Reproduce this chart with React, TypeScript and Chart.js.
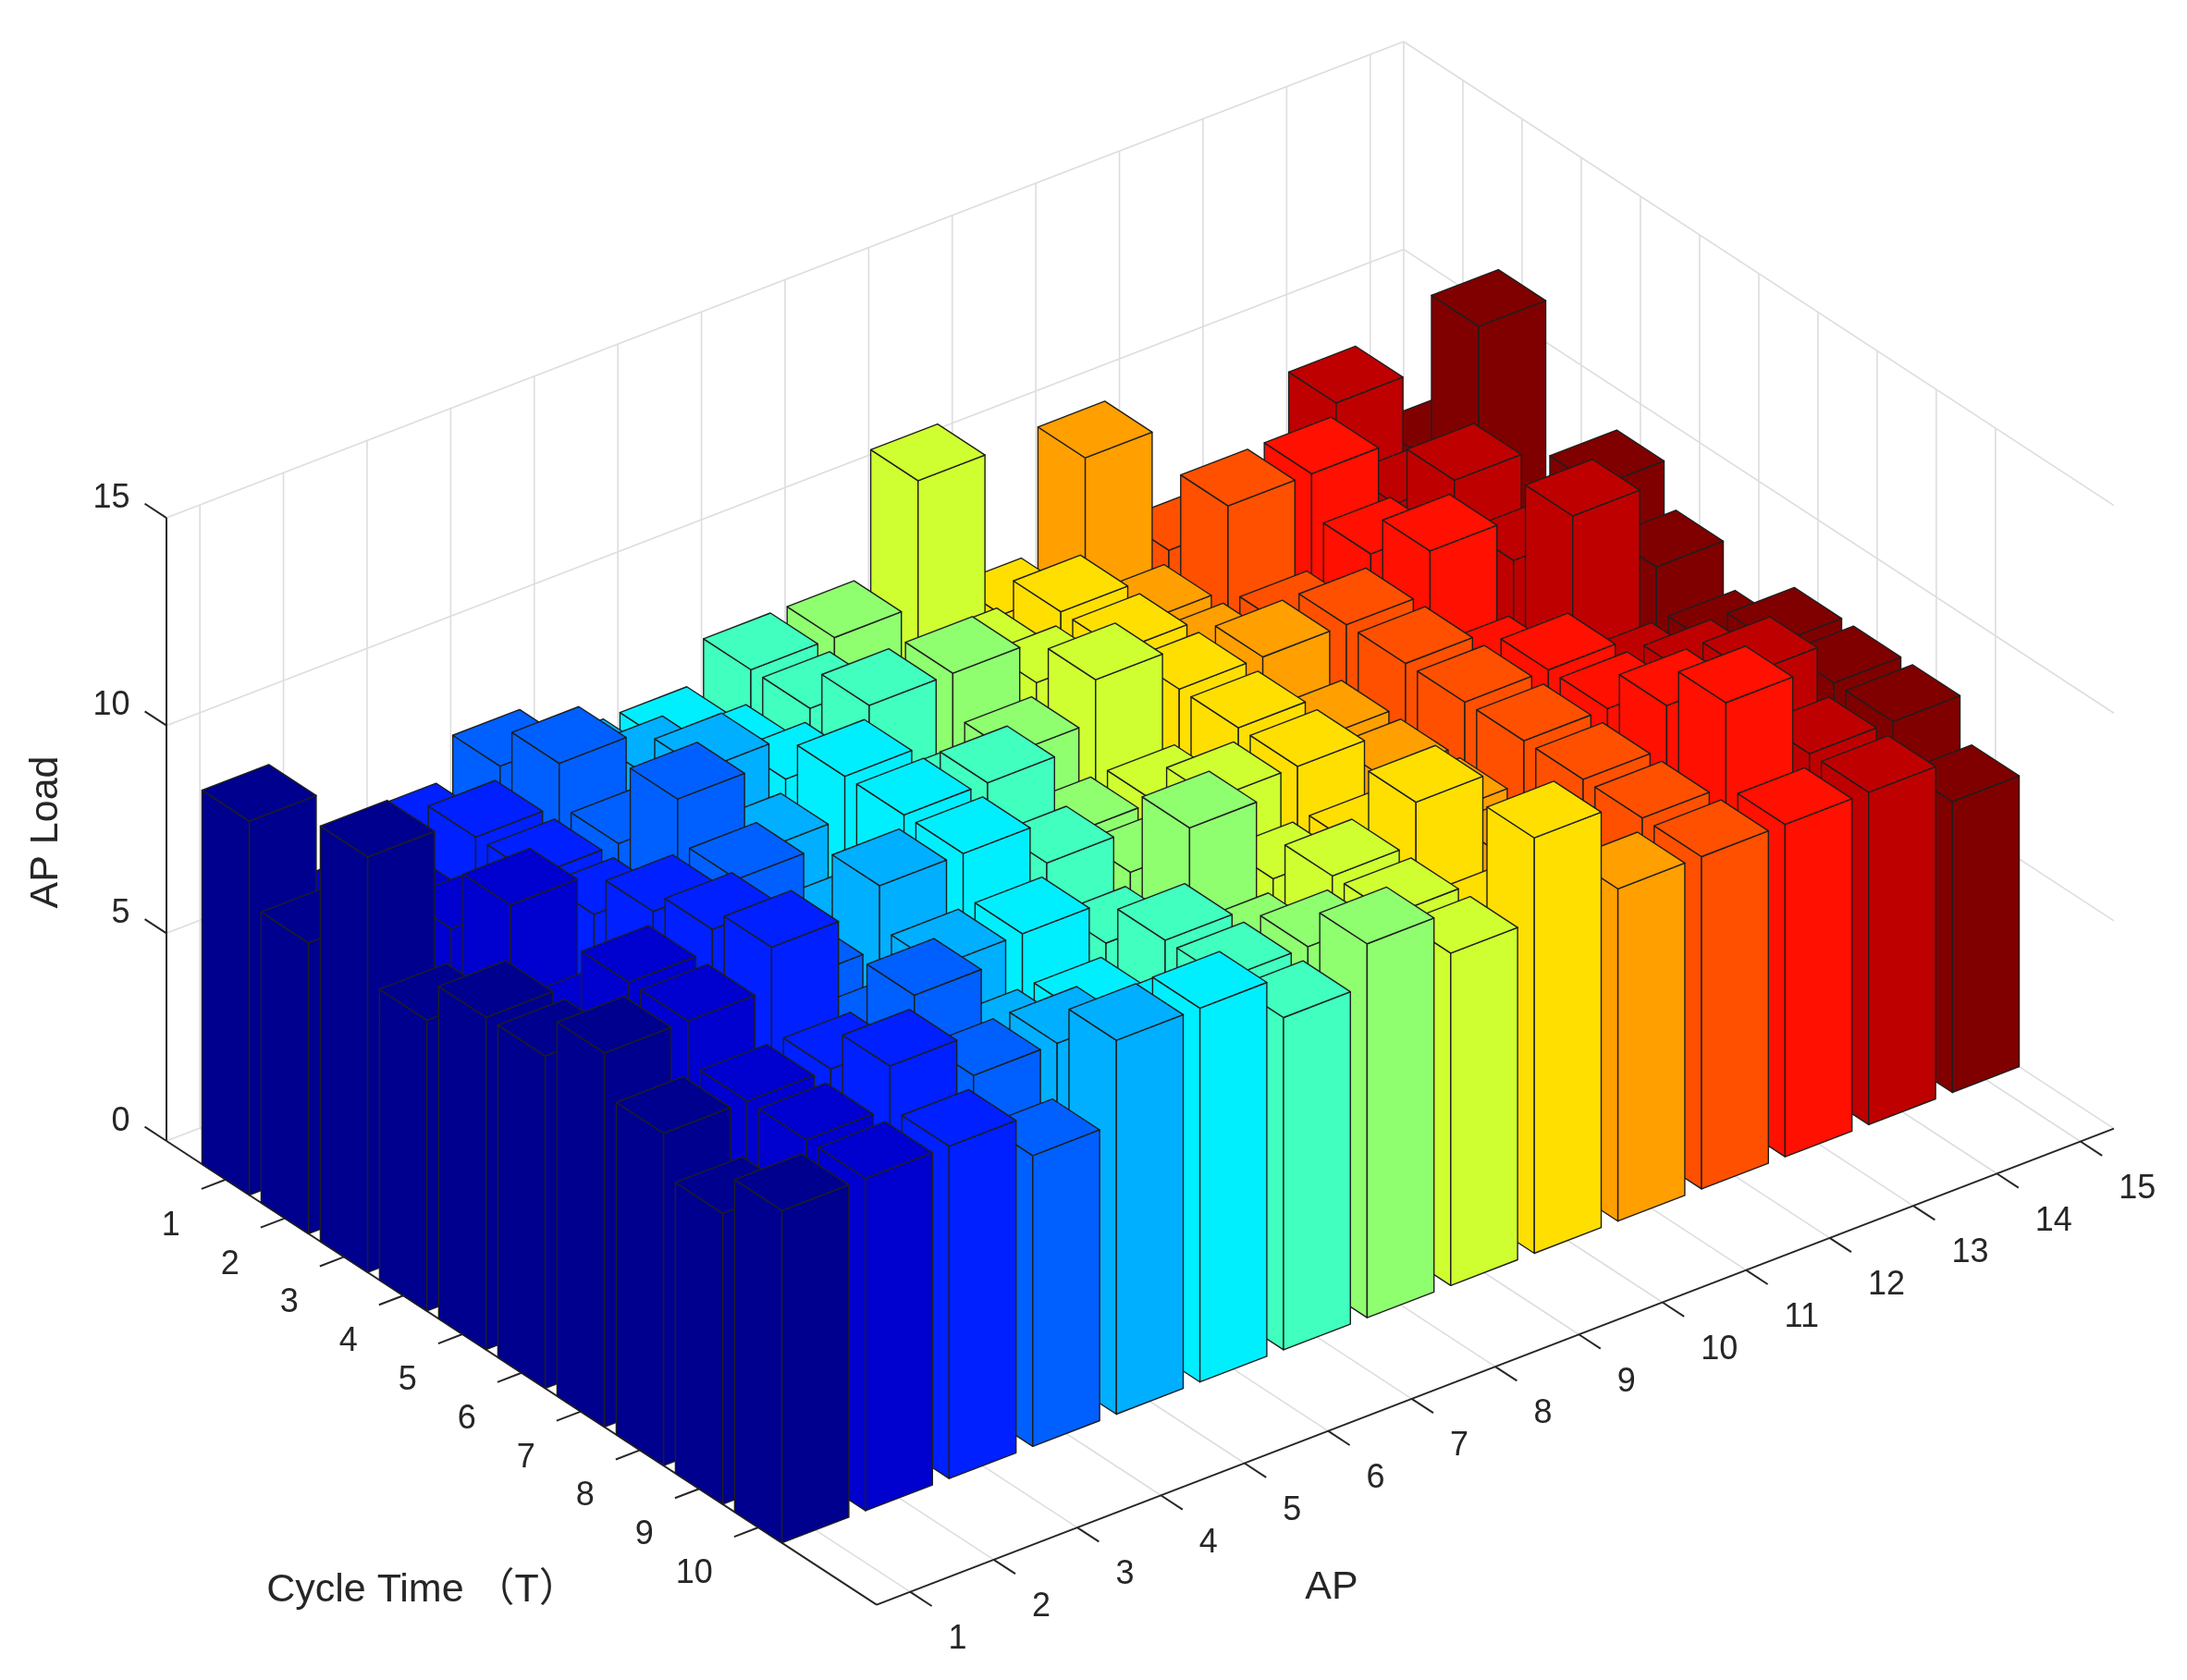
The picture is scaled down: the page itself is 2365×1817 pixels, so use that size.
import React, { useEffect, useRef } from "react";
import { Chart, registerables } from "chart.js";

Chart.register(...registerables);

const CANVAS_W = 2365;
const CANVAS_H = 1817;

// ---- data -------------------------------------------------------------
const apTicks = [1, 2, 3, 4, 5, 6, 7, 8, 9, 10, 11, 12, 13, 14, 15];
const cycleTicks = [1, 2, 3, 4, 5, 6, 7, 8, 9, 10];
const loadTicks = [0, 5, 10, 15];

// AP load per AP, indexed by cycle time 1..10
const loadAP1 = [9, 7, 10, 7, 8, 8, 9, 8, 7, 8];
const loadAP2 = [6, 7, 7.5, 9, 7, 9, 9, 8, 8, 8];
const loadAP3 = [7, 8, 8, 8, 9, 9.5, 10, 8, 9, 8];
const loadAP4 = [8, 9, 8, 10, 9, 7.5, 7, 9, 8, 7];
const loadAP5 = [7, 8, 9, 8, 7, 9, 8, 7, 8, 9];
const loadAP6 = [7, 7.5, 8, 9, 9, 9, 8, 7, 7.5, 9];
const loadAP7 = [8, 8, 9, 7.5, 9, 8, 7, 8, 8, 8];
const loadAP8 = [8, 7, 9, 8, 7, 7, 9, 7, 8, 9];
const loadAP9 = [11, 7.5, 8, 9, 7, 8, 7, 8, 8, 8];
const loadAP10 = [7, 8, 8, 8, 8, 8, 7, 9, 7, 10];
const loadAP11 = [10, 7, 7, 8, 7, 7, 7, 7, 7, 8];
const loadAP12 = [7, 9, 7, 8, 8, 8, 8, 8, 8, 8];
const loadAP13 = [7, 9, 8, 9, 7, 8, 8, 9, 10, 8];
const loadAP14 = [9, 7.5, 9, 8, 10, 7, 8, 9, 8, 8];
const loadAP15 = [7, 11, 6, 9, 8, 7, 8, 8, 8, 7];

const apSeries = [
  loadAP1, loadAP2, loadAP3, loadAP4, loadAP5, loadAP6, loadAP7, loadAP8,
  loadAP9, loadAP10, loadAP11, loadAP12, loadAP13, loadAP14, loadAP15,
];

const titleLoad = "AP Load";
const titleCycle = "Cycle Time （T）";
const titleAP = "AP";

// ---- view / layout ----------------------------------------------------
const VIEW = {
  originX: 180,
  originY: 1234,
  apDx: 90.4,
  apDy: -34.8,
  tDx: 64,
  tDy: 41.8,
  zDy: 44.93,
  apMin: 0.6,
  apMax: 15.4,
  tMin: 0,
  tMax: 12,
  zMax: 15,
  half: 0.4,
};

const FONT = '"Liberation Sans", Arial, "Noto Sans CJK SC", sans-serif';
const TEXT_COLOR = "#262626";

// MATLAB-style jet(m) colormap
const matlabJet = (m: number) => {
  const n = Math.ceil(m / 4);
  const u: number[] = [];
  for (let i = 1; i <= n; i++) u.push(i / n);
  for (let i = 1; i < n; i++) u.push(1);
  for (let i = n; i >= 1; i--) u.push(i / n);
  const gStart = Math.ceil(n / 2) - (m % 4 === 1 ? 1 : 0);
  const map = Array.from({ length: m }, () => [0, 0, 0]);
  for (let j = 0; j < u.length; j++) {
    const g = gStart + j + 1;
    const r = g + n;
    const b = g - n;
    if (r >= 1 && r <= m) map[r - 1][0] = u[j];
    if (g >= 1 && g <= m) map[g - 1][1] = u[j];
    if (b >= 1 && b <= m) map[b - 1][2] = u[j];
  }
  return map;
};
const JET64 = matlabJet(64);
const seriesColor = (i: number, count: number) => {
  const m = JET64.length;
  const idx = Math.min(m, Math.floor((i / (count - 1)) * m) + 1);
  const c = JET64[idx - 1].map((v) => Math.round(v * 255));
  return `rgb(${c[0]},${c[1]},${c[2]})`;
};

const bar3dPlugin = {
  id: "bar3d",
  afterDatasetsDraw(chart: any) {
    const ctx: CanvasRenderingContext2D = chart.ctx;
    const sx = chart.scales.x;
    const sy = chart.scales.y;
    const V = VIEW;
    const P = (ap: number, t: number, z: number): [number, number] => {
      const u = V.originX + (ap - V.apMin) * V.apDx + (t - V.tMin) * V.tDx;
      const v = V.originY + (ap - V.apMin) * V.apDy + (t - V.tMin) * V.tDy - z * V.zDy;
      return [sx.getPixelForValue(u), sy.getPixelForValue(v)];
    };
    const line = (a: [number, number], b: [number, number]) => {
      ctx.beginPath();
      ctx.moveTo(a[0], a[1]);
      ctx.lineTo(b[0], b[1]);
      ctx.stroke();
    };

    ctx.save();
    // ---- grid ----
    ctx.strokeStyle = "#dddddd";
    ctx.lineWidth = 1.6;
    apTicks.forEach((ap) => {
      line(P(ap, V.tMin, 0), P(ap, V.tMin, V.zMax));
      line(P(ap, V.tMin, 0), P(ap, V.tMax, 0));
    });
    cycleTicks.forEach((t) => {
      line(P(V.apMax, t, 0), P(V.apMax, t, V.zMax));
      line(P(V.apMin, t, 0), P(V.apMax, t, 0));
    });
    loadTicks.forEach((z) => {
      line(P(V.apMin, V.tMin, z), P(V.apMax, V.tMin, z));
      line(P(V.apMax, V.tMin, z), P(V.apMax, V.tMax, z));
    });
    line(P(V.apMax, V.tMin, 0), P(V.apMax, V.tMin, V.zMax));

    // ---- axes ----
    ctx.strokeStyle = "#262626";
    ctx.lineWidth = 2;
    line(P(V.apMin, V.tMin, 0), P(V.apMin, V.tMin, V.zMax));
    line(P(V.apMin, V.tMin, 0), P(V.apMin, V.tMax, 0));
    line(P(V.apMin, V.tMax, 0), P(V.apMax, V.tMax, 0));

    const tLen = Math.hypot(V.tDx, V.tDy);
    const aLen = Math.hypot(V.apDx, V.apDy);
    const TICK = 28;
    const tUnit = [V.tDx / tLen, V.tDy / tLen];
    const aUnit = [V.apDx / aLen, V.apDy / aLen];

    ctx.fillStyle = TEXT_COLOR;
    ctx.font = `36px ${FONT}`;
    ctx.textBaseline = "middle";

    loadTicks.forEach((z) => {
      const p = P(V.apMin, V.tMin, z);
      const e: [number, number] = [p[0] - tUnit[0] * TICK, p[1] - tUnit[1] * TICK];
      line(p, e);
      ctx.textAlign = "right";
      ctx.fillText(String(z), e[0] - 16, e[1] - 6);
    });
    cycleTicks.forEach((t) => {
      const p = P(V.apMin, t, 0);
      const e: [number, number] = [p[0] - aUnit[0] * TICK, p[1] - aUnit[1] * TICK];
      line(p, e);
      ctx.textAlign = "right";
      ctx.fillText(String(t), e[0] - 23, e[1] + 40);
    });
    apTicks.forEach((ap) => {
      const p = P(ap, V.tMax, 0);
      const e: [number, number] = [p[0] + tUnit[0] * TICK, p[1] + tUnit[1] * TICK];
      line(p, e);
      ctx.textAlign = "left";
      ctx.fillText(String(ap), e[0] + 18, e[1] + 36);
    });

    // ---- bars (back to front) ----
    ctx.lineJoin = "round";
    ctx.lineWidth = 1.4;
    ctx.strokeStyle = "#1e1e1e";
    const poly = (pts: [number, number][], fill: string) => {
      ctx.beginPath();
      ctx.moveTo(pts[0][0], pts[0][1]);
      for (let i = 1; i < pts.length; i++) ctx.lineTo(pts[i][0], pts[i][1]);
      ctx.closePath();
      ctx.fillStyle = fill;
      ctx.fill();
      ctx.stroke();
    };
    const h = V.half;
    for (let k = apSeries.length - 1; k >= 0; k--) {
      const ap = apTicks[k];
      const color = seriesColor(k, apSeries.length);
      for (let i = 0; i < cycleTicks.length; i++) {
        const t = cycleTicks[i];
        const z = apSeries[k][i];
        poly(
          [P(ap - h, t - h, 0), P(ap - h, t + h, 0), P(ap - h, t + h, z), P(ap - h, t - h, z)],
          color
        );
        poly(
          [P(ap - h, t + h, 0), P(ap + h, t + h, 0), P(ap + h, t + h, z), P(ap - h, t + h, z)],
          color
        );
        poly(
          [P(ap - h, t - h, z), P(ap + h, t - h, z), P(ap + h, t + h, z), P(ap - h, t + h, z)],
          color
        );
      }
    }

    // ---- titles ----
    ctx.fillStyle = TEXT_COLOR;
    ctx.font = `43px ${FONT}`;
    ctx.textAlign = "center";
    ctx.textBaseline = "middle";
    ctx.save();
    ctx.translate(50, 900);
    ctx.rotate(-Math.PI / 2);
    ctx.fillText(titleLoad, 0, 0);
    ctx.restore();
    ctx.fillText(titleCycle, 457, 1720);
    ctx.fillText(titleAP, 1440, 1717);
    ctx.restore();
  },
};

export default function App() {
  const ref = useRef<HTMLCanvasElement>(null);
  useEffect(() => {
    document.body.style.margin = "0";
    document.body.style.overflow = "hidden";
    const canvas = ref.current;
    if (!canvas) return;
    const chart = new Chart(canvas, {
      type: "scatter",
      data: { datasets: [{ data: [], pointRadius: 0 }] },
      options: {
        responsive: false,
        animation: false,
        devicePixelRatio: 1,
        layout: { padding: 0 },
        plugins: { legend: { display: false }, tooltip: { enabled: false } },
        scales: {
          x: { type: "linear", min: 0, max: CANVAS_W, display: false },
          y: { type: "linear", min: 0, max: CANVAS_H, reverse: true, display: false },
        },
      },
      plugins: [bar3dPlugin],
    } as any);
    return () => chart.destroy();
  }, []);
  return (
    <canvas
      ref={ref}
      width={CANVAS_W}
      height={CANVAS_H}
      style={{ display: "block", width: CANVAS_W, height: CANVAS_H }}
    />
  );
}
